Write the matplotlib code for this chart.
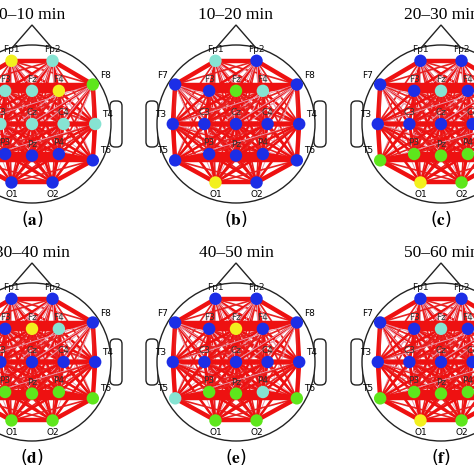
import matplotlib
matplotlib.use("Agg")
import matplotlib.pyplot as plt
from matplotlib.patches import Circle, Polygon, FancyBboxPatch
import itertools

plt.rcParams['mathtext.fontset'] = 'stix'

# electrode layout (head-radius units, y up)
names = ["Fp1", "Fp2", "F7", "F3", "Fz", "F4", "F8", "T3", "C3", "Cz", "C4", "T4",
         "T5", "P3", "Pz", "P4", "T6", "O1", "O2"]
pos_x = [-0.26, 0.26, -0.77, -0.34, 0.0, 0.34, 0.77, -0.80, -0.40, 0.0, 0.40, 0.80,
         -0.77, -0.34, 0.0, 0.34, 0.77, -0.26, 0.26]
pos_y = [0.80, 0.80, 0.50, 0.42, 0.42, 0.42, 0.50, 0.0, 0.0, 0.0, 0.0, 0.0,
         -0.46, -0.38, -0.40, -0.38, -0.46, -0.74, -0.74]
outer = ["Fp1", "Fp2", "F8", "T4", "T6", "O2", "O1", "T5", "T3", "F7"]

titles = ["0\u201310 min", "10\u201320 min", "20\u201330 min",
          "30\u201340 min", "40\u201350 min", "50\u201360 min"]
letters = ["a", "b", "c", "d", "e", "f"]

# node class per panel: B blue, C cyan, G green, Y yellow (order as names)
node_classes = [
    "YCCCCYGCCCCCBBBBBBB",
    "CBBBGCBBBBBBBBBBBYB",
    "BBBBCBBBBBBBGGGGGYG",
    "BBBBYCBBBBBBGGGGGGG",
    "BBBBYBBBBBBBCGGCGGG",
    "BBBBCBBBBBBBGGGGGYG",
]
class_colors = {"B": "#1c2ee6", "C": "#86e3d2", "G": "#5ee61c", "Y": "#f2f01e"}

centers_x = [32, 236, 441]
centers_y = [124, 362]
R = 79

fig = plt.figure(figsize=(4.74, 4.74), dpi=100)
ax = fig.add_axes([0, 0, 1, 1])
ax.set_xlim(0, 474)
ax.set_ylim(474, 0)
ax.set_aspect('equal')
ax.axis('off')

outer_pairs = set()
for i in range(len(outer)):
    outer_pairs.add(frozenset((outer[i], outer[(i + 1) % len(outer)])))

for k in range(6):
    cx = centers_x[k % 3]
    cy = centers_y[k // 3]
    # head outline, nose, ears
    ax.add_patch(Polygon([(cx - 20, cy - R + 3), (cx, cy - R - 20), (cx + 20, cy - R + 3)],
                         closed=False, fill=False, ec='#222222', lw=1.0, zorder=1))
    for s in (-1, 1):
        ex = cx + s * (R + 5)
        ax.add_patch(FancyBboxPatch((ex - 6, cy - 23), 12, 46,
                                    boxstyle="round,pad=0,rounding_size=5",
                                    fill=True, fc='white', ec='#222222', lw=1.0, zorder=0.5))
    ax.add_patch(Circle((cx, cy), R, fill=True, fc='white', ec='#222222', lw=1.0, zorder=0.9))

    px = [cx + x * R for x in pos_x]
    py = [cy - y * R for y in pos_y]
    # connections
    for i, j in itertools.combinations(range(len(names)), 2):
        pair = frozenset((names[i], names[j]))
        same_row = abs(pos_y[i] - pos_y[j]) < 0.1
        dist = ((pos_x[i] - pos_x[j]) ** 2 + (pos_y[i] - pos_y[j]) ** 2) ** 0.5
        if pair in outer_pairs or same_row:
            lw, c = 3.2, '#ee1111'
        elif dist < 0.95:
            lw, c = 1.8, '#ee1111'
        elif dist < 1.3:
            lw, c = 1.2, '#e82222'
        else:
            lw, c = 0.7, '#e89aaa'
        ax.plot([px[i], px[j]], [py[i], py[j]], color=c, lw=lw, zorder=2,
                solid_capstyle='round')
    # nodes and labels
    for i, n in enumerate(names):
        ax.add_patch(Circle((px[i], py[i]), 6.2, fc=class_colors[node_classes[k][i]],
                            ec='none', zorder=3))
        if n in ("T3", "F7", "T5"):
            ax.text(px[i] - 7, py[i] - 5, n, fontsize=6.5, ha='right', va='bottom', zorder=4)
        elif n in ("T4", "F8", "T6"):
            ax.text(px[i] + 7, py[i] - 5, n, fontsize=6.5, ha='left', va='bottom', zorder=4)
        elif n in ("O1", "O2"):
            ax.text(px[i], py[i] + 8, n, fontsize=6.5, ha='center', va='top', zorder=4)
        else:
            ax.text(px[i], py[i] - 7, n, fontsize=6.5, ha='center', va='bottom', zorder=4,
                    color='#111111' if n.startswith("Fp") else '#333333')
    ax.text(cx, cy - R - 30, titles[k], fontsize=12.5, ha='center', va='center',
            family='Liberation Serif')
    ax.text(cx, cy + R + 16, r'($\mathbf{' + letters[k] + r'}$)', fontsize=12.5,
            ha='center', va='center')

fig.savefig("out.png", dpi=100)
